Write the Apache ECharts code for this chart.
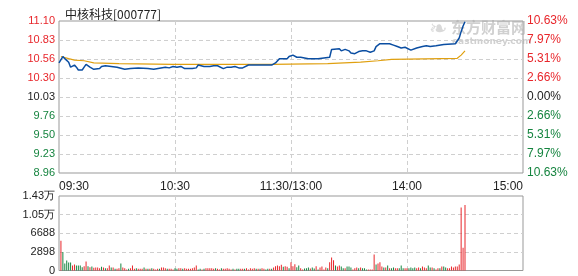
<!DOCTYPE html>
<html><head><meta charset="utf-8">
<script src="https://cdn.jsdelivr.net/npm/echarts@6/dist/echarts.min.js"></script>
<style>html,body{margin:0;padding:0;background:#fff}#c{width:578px;height:276px}</style>
</head><body><div id="c"></div>
<script>
const title = '中核科技[000777]';
const timeLabels = ['09:30', '10:30', '11:30/13:00', '14:00', '15:00'];
const leftLabels = ['8.96', '9.23', '9.50', '9.76', '10.03', '10.30', '10.56', '10.83', '11.10'];
const rightLabels = ['10.63%', '7.97%', '5.31%', '2.66%', '0.00%', '2.66%', '5.31%', '7.97%', '10.63%'];
const volLabels = ['0', '2898', '6688', '1.05万', '1.43万'];
const priceMin = 8.96, priceMax = 11.10, volMax = 14300;

const priceTimes = [0,2,3,5,6,7,8,9,10,12,13,14,15,16,18,19,21,22,24,25,30,34,37,41,46,49,50,55,57,59,61,63,65,69,71,72,75,78,80,82,83,85,87,89,91,93,95,98,110,112,114,118,119,120,121,123,125,126,129,130,134,135,137,140,141,142,145,146,148,150,151,153,155,157,158,159,161,163,164,165,166,169,170,171,173,175,177,179,182,183,185,188,190,192,195,199,205,206,207,208,209,210];
const prices = [10.51,10.60,10.57,10.52,10.45,10.44,10.48,10.45,10.41,10.41,10.45,10.49,10.48,10.45,10.42,10.43,10.43,10.46,10.47,10.45,10.45,10.42,10.43,10.44,10.43,10.42,10.44,10.45,10.44,10.46,10.45,10.46,10.43,10.43,10.44,10.48,10.46,10.46,10.47,10.47,10.45,10.43,10.45,10.45,10.46,10.44,10.44,10.48,10.48,10.51,10.57,10.57,10.60,10.62,10.62,10.59,10.59,10.57,10.57,10.56,10.57,10.55,10.58,10.59,10.70,10.71,10.71,10.68,10.70,10.68,10.65,10.64,10.67,10.68,10.70,10.68,10.66,10.68,10.74,10.76,10.78,10.78,10.76,10.78,10.76,10.74,10.72,10.73,10.69,10.70,10.72,10.74,10.75,10.74,10.75,10.77,10.78,10.78,10.86,10.95,11.03,11.09];

const avgTimes = [1,5,8,13,18,31,59,110,111,139,140,156,157,165,166,172,173,206,208,210];
const avgPrices = [10.60,10.57,10.55,10.54,10.51,10.50,10.49,10.49,10.50,10.50,10.52,10.52,10.54,10.54,10.56,10.56,10.57,10.575,10.62,10.68];

const volStart = 1;
const volumes = [5720,3560,1335,1900,1525,1525,950,1140,950,950,950,635,825,1715,825,635,760,510,570,570,445,700,570,445,445,950,570,570,320,320,445,1335,570,445,190,320,445,950,320,445,320,320,320,570,320,320,320,445,320,190,320,320,570,570,445,320,320,320,190,445,320,445,445,320,445,320,320,320,445,570,950,190,320,190,320,445,445,445,445,320,445,320,190,445,320,320,445,320,190,320,190,320,320,320,320,320,445,190,445,320,445,320,320,320,445,320,190,320,320,320,570,825,950,825,1080,700,825,700,445,1590,
825,1210,600,955,445,190,380,445,570,380,570,380,830,190,570,765,190,570,445,1590,2480,1970,955,765,955,765,445,445,765,765,570,190,445,570,445,570,445,445,190,190,190,190,3050,1145,1335,1590,765,570,570,955,445,445,570,445,445,445,955,445,445,445,445,570,445,570,445,570,445,765,570,445,955,570,570,445,190,445,445,765,765,570,445,445,765,570,765,765,1145,12080,4390,12590];
const volUp = [1,0,0,0,0,0,1,1,0,0,0,0,1,1,0,1,0,1,1,1,1,0,1,0,1,1,0,1,0,1,1,0,1,1,1,0,1,1,1,0,1,1,1,0,1,0,1,0,1,1,1,0,1,1,1,0,1,1,1,0,0,1,1,0,1,1,1,1,1,1,1,0,0,1,0,1,1,1,1,1,0,1,1,0,1,1,1,1,1,0,1,0,0,1,1,0,1,1,1,1,1,0,1,0,1,1,0,0,1,0,1,1,1,1,1,0,1,1,0,1,
1,1,0,0,1,1,0,0,0,1,0,0,1,0,1,1,1,1,0,1,1,1,0,1,1,0,0,1,0,0,0,1,1,1,0,1,0,0,0,1,1,1,1,0,1,1,1,0,1,0,1,0,0,1,1,0,0,0,1,1,0,0,0,0,1,1,0,1,1,1,0,0,1,0,1,1,0,1,0,0,1,1,1,1,1,1,1,1,1,1];

const RED = '#e8262b', GREEN = '#15843f', BLUE = '#0b4ea2', ORANGE = '#e0a010';
const FONT = 'Liberation Sans';

const priceData = priceTimes.map((t, i) => [t, prices[i]]);
const avgData = avgTimes.map((t, i) => [t, avgPrices[i]]);
const volData = volumes.map((v, i) => ({
  value: [volStart + i, v],
  itemStyle: { color: volUp[i] ? RED : GREEN }
}));

const splitDashed = { show: true, showMinLine: false, showMaxLine: false, lineStyle: { color: '#cfcfcf', type: [4, 3], width: 1 } };
const labelColor = (v) => v < 4 ? GREEN : (v > 4 ? RED : '#222');

const chart = echarts.init(document.getElementById('c'), null, { renderer: 'canvas' });
chart.setOption({
  animation: false,
  backgroundColor: '#fff',
  title: { text: title, left: 60, top: 3, textStyle: { fontSize: 12, fontWeight: 'normal', color: '#222', fontFamily: 'Noto Sans CJK SC' } },
  grid: [
    { left: 59, top: 21, width: 464, height: 152, show: true, borderColor: '#999', borderWidth: 1, backgroundColor: 'transparent' },
    { left: 59, top: 196, width: 464, height: 75, show: true, borderColor: '#999', borderWidth: 1, backgroundColor: 'transparent' }
  ],
  xAxis: [
    { type: 'value', gridIndex: 0, min: 0, max: 240, interval: 60,
      axisLine: { show: false }, axisTick: { show: false },
      axisLabel: { margin: 8, fontSize: 12, color: '#222', fontFamily: FONT, alignMinLabel: 'left', alignMaxLabel: 'right',
        formatter: (v) => timeLabels[Math.round(v / 60)] },
      splitLine: splitDashed },
    { type: 'value', gridIndex: 1, min: 0, max: 240, interval: 60,
      axisLine: { show: false }, axisTick: { show: false }, axisLabel: { show: false },
      splitLine: splitDashed }
  ],
  yAxis: [
    { type: 'value', gridIndex: 0, min: 0, max: 8, interval: 1, position: 'left',
      axisLine: { show: false }, axisTick: { show: false },
      axisLabel: { margin: 4, fontSize: 11, fontFamily: FONT, color: labelColor, formatter: (v) => leftLabels[v] },
      splitLine: splitDashed },
    { type: 'value', gridIndex: 0, min: 0, max: 8, interval: 1, position: 'right',
      axisLine: { show: false }, axisTick: { show: false },
      axisLabel: { margin: 4, fontSize: 12, fontFamily: FONT, color: labelColor, formatter: (v) => rightLabels[v] },
      splitLine: { show: false } },
    { type: 'value', gridIndex: 0, min: priceMin, max: priceMax, show: false, splitLine: { show: false } },
    { type: 'value', gridIndex: 1, min: 0, max: volMax, interval: volMax / 4,
      axisLine: { show: false }, axisTick: { show: false },
      axisLabel: { margin: 4, fontSize: 11, fontFamily: FONT, color: '#222', formatter: (v) => volLabels[Math.round(v / (volMax / 4))] },
      splitLine: splitDashed }
  ],
  graphic: [
    { type: 'text', left: 451, top: 20, z: 0, style: { text: '东方财富网', fontSize: 15, fontWeight: 'bold', fill: 'rgba(170,170,170,0.55)', fontFamily: 'Noto Sans CJK SC' } },
    { type: 'text', left: 452, top: 37, z: 0, style: { text: 'eastmoney.com', fontSize: 9, fontWeight: 'bold', fill: 'rgba(170,170,170,0.55)', fontFamily: 'DejaVu Sans' } },
    { type: 'text', left: 429, top: 19, z: 0, style: { text: '\u2767', fontSize: 22, fill: 'rgba(170,170,170,0.45)', fontFamily: 'DejaVu Sans' } }
  ],
  series: [
    { type: 'line', xAxisIndex: 0, yAxisIndex: 2, data: avgData, showSymbol: false, lineStyle: { color: ORANGE, width: 1.2 }, z: 3 },
    { type: 'line', xAxisIndex: 0, yAxisIndex: 2, data: priceData, showSymbol: false, lineStyle: { color: BLUE, width: 1.5 }, z: 4 },
    { type: 'bar', xAxisIndex: 1, yAxisIndex: 3, data: volData, barWidth: 1 }
  ]
});
</script></body></html>
